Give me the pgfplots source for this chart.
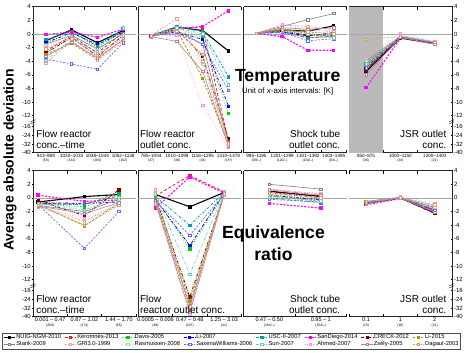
\documentclass[border=0pt]{standalone}
\usepackage{pgfplots}
\pgfplotsset{compat=1.18}
\usepackage{pgfplotstable}
\usepgfplotslibrary{groupplots}
\usepackage{fontspec}
\setmainfont{Liberation Sans}

\definecolor{cRed}{HTML}{E8202A}
\definecolor{cGreen}{HTML}{00CC00}
\definecolor{cBlue}{HTML}{0000FF}
\definecolor{cTeal}{HTML}{00A0A0}
\definecolor{cMag}{HTML}{FF00FF}
\definecolor{cDRed}{HTML}{800000}
\definecolor{cOlive}{HTML}{9C9C00}
\definecolor{cGray}{HTML}{808080}
\definecolor{cPink}{HTML}{FF9999}
\definecolor{cLGreen}{HTML}{99E699}
\definecolor{cViolet}{HTML}{6666FF}
\definecolor{cLCyan}{HTML}{66CCCC}
\definecolor{cLMag}{HTML}{FF88FF}
\definecolor{cRosy}{HTML}{B87FA0}
\definecolor{cTan}{HTML}{D9A066}

\pgfplotscreateplotcyclelist{mylist}{%
black,solid,line width=1.1pt,mark=square*,mark options={solid}\\%
cRed,dash pattern=on 3pt off 2pt,line width=0.8pt,mark=square*,mark options={solid}\\%
cGreen,dotted,line width=0.8pt,mark=square*,mark options={solid}\\%
cBlue,dash pattern=on 3pt off 1.5pt on 0.7pt off 1.5pt,line width=0.8pt,mark=square*,mark options={solid}\\%
cTeal,dash pattern=on 2.5pt off 1.5pt on 0.7pt off 1.5pt,line width=0.8pt,mark=square*,mark options={solid}\\%
cMag,dash pattern=on 2pt off 1.5pt,line width=1.1pt,mark=square*,mark options={solid}\\%
cDRed,dash pattern=on 3pt off 1.5pt on 0.7pt off 1.5pt,line width=0.8pt,mark=square*,mark options={solid}\\%
cOlive,dash pattern=on 2.5pt off 1.5pt,line width=0.8pt,mark=square*,mark options={solid}\\%
cGray,solid,line width=0.6pt,mark=square*,mark options={solid,fill=white}\\%
cPink,dash pattern=on 2pt off 1.5pt,line width=0.7pt,mark=square*,mark options={solid,fill=white}\\%
cLGreen,dotted,line width=0.7pt,mark=square*,mark options={solid,fill=white}\\%
cViolet,dash pattern=on 2pt off 1.5pt,line width=0.7pt,mark=square*,mark options={solid,fill=white}\\%
cLCyan,dash pattern=on 2.5pt off 1.5pt on 0.7pt off 1.5pt,line width=0.7pt,mark=square*,mark options={solid,fill=white}\\%
cLMag,dotted,line width=0.7pt,mark=square*,mark options={solid,fill=white}\\%
cRosy,solid,line width=0.6pt,mark=square*,mark options={solid,fill=white}\\%
cTan,dash pattern=on 2pt off 1.5pt,line width=0.6pt,mark=square*,mark options={solid,fill=white}\\%
}

\pgfplotsset{legend image code/.code={\draw[mark repeat=2,mark phase=2,#1] plot coordinates {(0cm,0cm) (0.2cm,0cm) (0.4cm,0cm)};}}
\tikzset{lbl/.style={font=\fontsize{10}{12}\selectfont, inner sep=0pt}}

\newcommand{\tlT}[2]{#1\\[-0.8pt]{\fontsize{3.4}{4}\selectfont(#2)}}
\newcommand{\tlB}[2]{#1\\[-0.8pt]{\fontsize{3.4}{4}\selectfont(#2)}}

% Temperature, flow reactor conc.-time
\pgfplotstableread{
x s1 s2 s3 s4 s5 s6 s7 s8 s9 s10 s11 s12 s13 s14 s15 s16
1 -1.0 -2.5 -0.9 -1.3 -0.8 -0.1 -2.8 -3.0 -1.5 -4.3 -1.7 -3.7 -3.9 -2.0 -3.3 -2.2
2  0.6 -0.3  0.3  0.2  0.4  0.3 -0.5 -1.4 -0.2 -1.0 -0.4 -4.4 -0.8 -0.6 -1.2 -0.7
3 -1.3 -2.8 -2.0 -1.6 -1.8 -0.5 -3.3 -3.7 -2.2 -3.9 -2.4 -5.2 -2.6 -2.9 -3.5 -3.1
4  0.5  0.2  0.4  0.3  0.8  0.7 -0.2 -0.8  0.0 -1.1 -0.3 -1.3  0.9 -0.5 -0.9 -0.6
}\tTa
% Temperature, flow reactor outlet conc.
\pgfplotstableread{
x s1 s2 s3 s4 s5 s6 s7 s8 s9 s10 s11 s12 s13 s14 s15 s16
1 -0.3 -0.3 -0.3 -0.3 -0.2 -0.3 -0.4 -0.4 -0.3 -0.2 -0.3 -0.3 -0.2 -0.3 -0.4 -0.3
2  1.0  1.0  0.9  0.3  1.1  0.8  0.7  0.6  0.5  2.2  0.8  0.2  0.9 -0.2 -1.1  0.4
3  0.5  0.9 -0.5 -0.8  0.3  1.1 -3.3 -6.5 -1.5 -4.0 -4.5 -1.5  0.0 -10.5 -5.5 -3.0
4 -2.5 -30 -11.7 -10.6 -6.3 3.4 -27 -33 -31 -32 -33 -8.3 -7.5 -35 -34 -32
}\tTb
% Temperature, shock tube
\pgfplotstableread{
x s1 s2 s3 s4 s5 s6 s7 s8 s9 s10 s11 s12 s13 s14 s15 s16
1 0.1 0.1 0.1 0.1 0.1 0.1 0.1 0.1 0.1 0.1 0.1 0.1 0.1 0.1 0.1 0.1
2 0.6 0.4 0.5 0.3 0.2 -0.4 0.5 0.7 1.1 1.3 0.8 0.2 0.4 1.4 0.9 0.6
3 0.4 -0.6 0.2 -0.3 -0.5 -2.4 -0.2 0.1 2.1 1.1 0.6 -1.0 0.0 0.5 0.7 0.3
4 1.2 -0.3 0.3 0.2 -0.4 -2.4 -0.2 -0.5 3.0 0.6 0.5 -0.7 -0.6 0.4 0.9 0.0
}\tTc
% Temperature, JSR
\pgfplotstableread{
x s1 s2 s3 s4 s5 s6 s7 s8 s9 s10 s11 s12 s13 s14 s15 s16
1 -5.5 -5.2 -4.3 -4.9 -4.6 -7.9 -5.3 -4.5 -4.0 -3.8 -4.1 -5.0 -4.4 -3.6 -6.0 -0.8
2 -0.6 -0.5 -0.4 -0.5 -0.3 -0.6 -0.6 -0.5 -0.4 -0.3 -0.3 -0.4 -0.2 0.1 -0.5 -0.4
3 -1.4 -1.3 -1.3 -1.4 -1.2 -1.4 -1.5 -1.3 -1.2 -1.2 -1.2 -1.3 -1.2 -1.1 -1.5 -1.2
}\tTd
% Equivalence ratio, flow reactor conc.-time
\pgfplotstableread{
x s1 s2 s3 s4 s5 s6 s7 s8 s9 s10 s11 s12 s13 s14 s15 s16
0.65 -0.6 -0.8 -0.9 -0.7 -0.9 0.4 -0.4 -1.0 -1.1 -1.2 -1.0 -1.0 -0.8 -1.3 -1.2 -1.1
2 0.2 -0.9 -1.3 -0.8 -1.0 -0.5 -2.6 -4.1 -2.0 -3.4 -3.8 -7.4 -1.8 -3.0 -2.3 -4.0
3 0.5 0.3 0.6 -0.6 0.8 -0.3 1.2 -0.8 -0.2 -0.9 -0.5 -2.0 0.1 -1.0 -0.7 -1.1
}\tPa
% Equivalence ratio, flow reactor outlet conc.
\pgfplotstableread{
x s1 s2 s3 s4 s5 s6 s7 s8 s9 s10 s11 s12 s13 s14 s15 s16
1 0.5 0.3 0.0 -0.2 0.2 -1.5 0.1 0.2 -0.3 1.2 -0.5 -0.4 0.6 -0.8 -0.6 -0.9
2 -1.3 3.3 -7.5 -7.0 -4.0 3.1 -22 -26 -30 -33 -35 -5.5 -11.2 -38 -36 -31
3 0.8 0.9 0.6 0.7 0.8 0.7 0.6 0.7 0.5 0.9 0.6 0.6 0.8 0.4 0.5 0.6
}\tPb
% Equivalence ratio, shock tube
\pgfplotstableread{
x s1 s2 s3 s4 s5 s6 s7 s8 s9 s10 s11 s12 s13 s14 s15 s16
1 1.0 0.8 0.5 0.4 0.0 -0.8 0.9 0.3 2.0 1.3 0.6 -0.2 0.1 1.1 1.2 0.7
2 0.2 0.0 -0.2 -0.3 -0.7 -1.5 0.3 -0.5 1.3 0.6 0.1 -0.6 -0.4 0.5 0.4 0.0
}\tPc
% Equivalence ratio, JSR
\pgfplotstableread{
x s1 s2 s3 s4 s5 s6 s7 s8 s9 s10 s11 s12 s13 s14 s15 s16
1 -0.8 -0.6 -0.7 -0.7 -0.6 -1.0 -0.8 -0.6 -0.5 -0.6 -0.5 -0.7 -0.6 -0.9 -0.8 -0.5
2 0.0 0.0 0.0 0.0 0.1 -0.1 0.0 0.0 0.1 0.1 0.0 0.0 0.1 0.2 0.0 0.0
3 -2.2 -1.8 -1.6 -1.9 -1.5 -1.7 -2.3 -2.0 -1.4 -1.2 -1.3 -1.9 -1.1 -0.8 -2.1 -1.0
}\tPd

\begin{document}
\begin{tikzpicture}
\begin{groupplot}[
  group style={group size=4 by 2, horizontal sep=2.3pt, vertical sep=18pt},
  scale only axis, width=103pt, height=146pt,
  ymin=-17.44, ymax=4,
  y filter/.expression={y>-12 ? y : (y>-16 ? -12+0.4*(y+12) : -13.6+0.16*(y+16))},
  ytick={4,2,0,-2,-4,-6,-8,-10,-12,-13.6,-14.88,-16.16,-17.44},
  yticklabels={4,2,0,-2,-4,-6,-8,-10,-12,-16,-24,-32,-40},
  axis x line*=box,
  major x tick style={draw=none},
  minor tick length=3pt,
  major tick length=2pt,
  ytick align=center,
  tick style={line width=0.4pt, black},
  axis line style={line width=0.5pt, black!85},
  yticklabel style={font=\fontsize{6}{7}\selectfont, inner sep=1pt},
  xticklabel style={align=center, inner sep=1pt},
  clip mode=individual,
  cycle list name=mylist,
  every axis plot/.append style={mark size=1.2pt},
]
% ---------------- Row 1: Temperature
\nextgroupplot[axis y line*=left, xmin=0.5, xmax=4.5, xtick={1,2,3,4}, minor xtick={0.5,1.5,2.5,3.5,4.5},
  xticklabel style={font=\fontsize{4.6}{5.2}\selectfont},
  xticklabels={{\tlT{943–989}{59}},{\tlT{1030–1033}{132}},{\tlT{1038–1044}{165}},{\tlT{1052–1138}{152}}}]
\coordinate (tl) at (rel axis cs:0,1);
\draw[black!35, line width=0.5pt] (axis cs:0.5,0) -- (axis cs:4.5,0);
\foreach \c in {1,...,16} {\addplot table[x=x, y=s\c] {\tTa};}
\draw[line width=0.4pt] ([shift={(-2.5pt,-2.6pt)}]axis cs:0.5,-12.8) -- ++(5pt,2pt);
\draw[line width=0.4pt] ([shift={(-2.5pt,-0.6pt)}]axis cs:0.5,-12.8) -- ++(5pt,2pt);
\node[lbl, anchor=base west] at (rel axis cs:0.03,0.104) {Flow reactor};
\node[lbl, anchor=base west] at (rel axis cs:0.03,0.029) {conc.–time};

\nextgroupplot[axis y line*=none, ytick=\empty, xmin=0.5, xmax=4.5, xtick={1,2,3,4}, minor xtick={0.5,1.5,2.5,3.5,4.5},
  xticklabel style={font=\fontsize{4.6}{5.2}\selectfont},
  xticklabels={{\tlT{785–1004}{37}},{\tlT{1010–1099}{38}},{\tlT{1116–1295}{34}},{\tlT{1310–1479}{15*}}}]
\draw[black!35, line width=0.5pt] (axis cs:0.5,0) -- (axis cs:4.5,0);
\foreach \c in {1,...,16} {\addplot table[x=x, y=s\c] {\tTb};}
\node[lbl, anchor=base west] at (rel axis cs:0.015,0.104) {Flow reactor};
\node[lbl, anchor=base west] at (rel axis cs:0.015,0.029) {outlet conc.};

\nextgroupplot[axis y line*=none, ytick=\empty, xmin=0.5, xmax=4.5, xtick={1,2,3,4}, minor xtick={0.5,1.5,2.5,3.5,4.5},
  xticklabel style={font=\fontsize{4.6}{5.2}\selectfont},
  xticklabels={{\tlT{995–1195}{99/–}},{\tlT{1201–1299}{120/–}},{\tlT{1301–1392}{154/–}},{\tlT{1403–1495}{63/–}}}]
\draw[black!35, line width=0.5pt] (axis cs:0.5,0) -- (axis cs:4.5,0);
\foreach \c in {1,...,16} {\addplot table[x=x, y=s\c] {\tTc};}
\node[lbl, anchor=base east] at (rel axis cs:0.94,0.104) {Shock tube};
\node[lbl, anchor=base east] at (rel axis cs:0.94,0.029) {outlet conc.};
\node[font=\bfseries\fontsize{17.6}{20}\selectfont, inner sep=0pt, anchor=base] at (rel axis cs:0.428,0.488) {Temperature};
\node[font=\fontsize{7.8}{9}\selectfont, inner sep=0pt, anchor=base] at (rel axis cs:0.428,0.407) {Unit of \textit{x}-axis intervals: [K]};

\nextgroupplot[axis y line*=right, xmin=0.5, xmax=3.5, xtick={1,2,3}, minor xtick={0.5,1.5,2.5,3.5},
  xticklabel style={font=\fontsize{4.6}{5.2}\selectfont},
  xticklabels={{\tlT{850–875}{36}},{\tlT{1000–1150}{33}},{\tlT{1200–1400}{21}}}]
\fill[black!27] (axis cs:0.5,-17.44) rectangle (axis cs:1.5,4);
\draw[black!35, line width=0.5pt] (axis cs:0.5,0) -- (axis cs:3.5,0);
\foreach \c in {1,...,16} {\addplot table[x=x, y=s\c] {\tTd};}
\draw[line width=0.4pt] ([shift={(-2.5pt,-2.6pt)}]axis cs:3.5,-12.8) -- ++(5pt,2pt);
\draw[line width=0.4pt] ([shift={(-2.5pt,-0.6pt)}]axis cs:3.5,-12.8) -- ++(5pt,2pt);
\node[lbl, anchor=base east] at (rel axis cs:0.948,0.104) {JSR outlet};
\node[lbl, anchor=base east] at (rel axis cs:0.948,0.029) {conc.};

% ---------------- Row 2: Equivalence ratio
\nextgroupplot[axis y line*=left, xmin=0.5, xmax=3.5, xtick={1,2,3}, minor xtick={0.5,1.5,2.5,3.5},
  xticklabel style={font=\fontsize{5.5}{6}\selectfont},
  xticklabels={{\tlB{0.001 – 0.47}{269}},{\tlB{0.87 – 1.02}{174}},{\tlB{1.44 – 1.70}{65}}},
  legend columns=8,
  legend cell align=left,
  legend style={at={(-0.301,-0.11)}, anchor=north west, font=\fontsize{5.8}{6.2}\selectfont,
    draw=black!70, line width=0.4pt, inner sep=1pt, nodes={inner sep=0.6pt},
    /tikz/every even column/.append style={column sep=2.8pt}}]
\draw[black!35, line width=0.5pt] (axis cs:0.5,0) -- (axis cs:3.5,0);
\foreach \c in {1,...,16} {\addplot table[x=x, y=s\c] {\tPa};}
\draw[line width=0.4pt] ([shift={(-2.5pt,-2.6pt)}]axis cs:0.5,-12.8) -- ++(5pt,2pt);
\draw[line width=0.4pt] ([shift={(-2.5pt,-0.6pt)}]axis cs:0.5,-12.8) -- ++(5pt,2pt);
\node[lbl, anchor=base west] at (rel axis cs:0.03,0.1) {Flow reactor};
\node[lbl, anchor=base west] at (rel axis cs:0.03,0.024) {conc.–time};
\legend{NUIG-NGM-2010,Kéromnès-2013,Davis-2005,Li-2007,USC-II-2007,SanDiego-2014,CRECK-2012,Li-2015,
  Starik-2009,GRI3.0-1999,Rasmussen-2008,SaxenaWilliams-2006,Sun-2007,Ahmed-2007,Zsély-2005,Dagaut-2003}

\nextgroupplot[axis y line*=none, ytick=\empty, xmin=0.5, xmax=3.5, xtick={1,2,3}, minor xtick={0.5,1.5,2.5,3.5},
  xticklabel style={font=\fontsize{5.5}{6}\selectfont},
  xticklabels={{\tlB{0.0005 – 0.006}{49}},{\tlB{0.47 – 0.48}{337}},{\tlB{1.25 – 3.03}{41}}}]
\draw[black!35, line width=0.5pt] (axis cs:0.5,0) -- (axis cs:3.5,0);
\foreach \c in {1,...,16} {\addplot table[x=x, y=s\c] {\tPb};}
\node[lbl, anchor=base west] at (rel axis cs:0.015,0.1) {Flow};
\node[lbl, anchor=base west] at (rel axis cs:0.015,0.024) {reactor outlet conc.};

\nextgroupplot[axis y line*=none, ytick=\empty, xmin=0.5, xmax=2.5, xtick={1,2}, minor xtick={0.5,1.5,2.5},
  xticklabel style={font=\fontsize{5.5}{6}\selectfont},
  xticklabels={{\tlB{0.47 – 0.50}{182/–}},{\tlB{0.95 – 1}{254/–}}}]
\draw[black!35, line width=0.5pt] (axis cs:0.5,0) -- (axis cs:2.5,0);
\foreach \c in {1,...,16} {\addplot table[x=x, y=s\c] {\tPc};}
\node[lbl, anchor=base east] at (rel axis cs:0.94,0.1) {Shock tube};
\node[lbl, anchor=base east] at (rel axis cs:0.94,0.024) {outlet conc.};
\node[font=\bfseries\fontsize{17.6}{20}\selectfont, inner sep=0pt, anchor=base] at (rel axis cs:0.29,0.535) {Equivalence};
\node[font=\bfseries\fontsize{17.6}{20}\selectfont, inner sep=0pt, anchor=base] at (rel axis cs:0.29,0.385) {ratio};

\nextgroupplot[axis y line*=right, xmin=0.5, xmax=3.5, xtick={1,2,3}, minor xtick={0.5,1.5,2.5,3.5},
  xticklabel style={font=\fontsize{5.5}{6}\selectfont},
  xticklabels={{\tlB{0.1}{15}},{\tlB{1}{18}},{\tlB{2}{21}}}]
\draw[black!35, line width=0.5pt] (axis cs:0.5,0) -- (axis cs:3.5,0);
\foreach \c in {1,...,16} {\addplot table[x=x, y=s\c] {\tPd};}
\draw[line width=0.4pt] ([shift={(-2.5pt,-2.6pt)}]axis cs:3.5,-12.8) -- ++(5pt,2pt);
\draw[line width=0.4pt] ([shift={(-2.5pt,-0.6pt)}]axis cs:3.5,-12.8) -- ++(5pt,2pt);
\node[lbl, anchor=base east] at (rel axis cs:0.948,0.1) {JSR outlet};
\node[lbl, anchor=base east] at (rel axis cs:0.948,0.024) {conc.};
\end{groupplot}
\node[rotate=90, font=\bfseries\fontsize{14}{16}\selectfont, inner sep=0pt] at ([shift={(-23pt,-153.3pt)}]tl) {Average absolute deviation};
\pgfresetboundingbox
\path[use as bounding box] ([shift={(-33pt,6.7pt)}]tl) rectangle ([shift={(441pt,-346.3pt)}]tl);
\end{tikzpicture}
\end{document}
